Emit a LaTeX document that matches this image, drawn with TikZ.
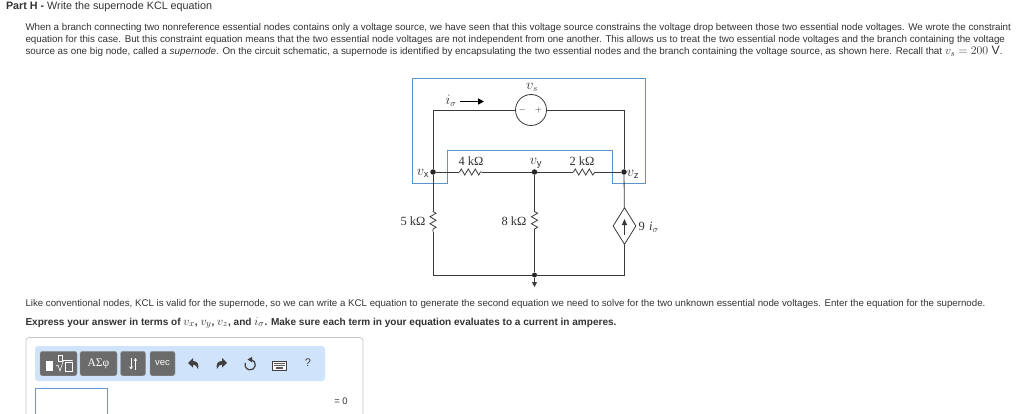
\documentclass[tikz,border=0pt]{standalone}
\usepackage{fontspec}
\usepackage{graphicx}
\setmainfont{Liberation Sans}
\newfontfamily\serifc{Liberation Serif}
\usetikzlibrary{shapes.geometric,decorations.pathmorphing,arrows.meta}
\definecolor{txt}{HTML}{333333}
\definecolor{wire}{HTML}{3A3A3A}
\definecolor{sn}{HTML}{5B94CC}
\definecolor{barblue}{HTML}{CFE3FA}
\definecolor{inputblue}{HTML}{6F96D8}
\newcommand{\fitline}[2]{\resizebox{#1pt}{!}{#2}}
\newcommand{\mth}[1]{{\fontsize{12.5}{12}\selectfont$#1$}}
\tikzset{
 line/.style={anchor=base west,inner sep=0pt,outer sep=0pt,text=txt,font=\fontsize{10}{12}\selectfont},
 wiring/.style={draw=wire,line width=0.8pt},
 res/.style={wiring,decorate,decoration={zigzag,amplitude=3pt,segment length=7pt,pre length=0.5pt,post length=0.5pt}},
 dot/.style={circle,fill=black!85,inner sep=0pt,minimum size=5.5pt},
 clabel/.style={inner sep=0pt,text=black!80,font=\serifc\fontsize{12.5}{12}\selectfont},
 vlabel/.style={inner sep=0pt,text=black!80,font=\fontsize{13.5}{14}\selectfont},
 tbtn/.style={rectangle,rounded corners=2.5pt,inner sep=0pt,fill=black!58,draw=black!42,line width=0.4pt,text=white},
 ticon/.style={inner sep=0pt,text=black!75},
}
\begin{document}
\begin{tikzpicture}[x=1pt,y=-1pt]
\useasboundingbox (0,0) rectangle (1024,414);
\fill[white] (0,0) rectangle (1024,414);
% text
\node[line] (title) at (6,9.5) {\fitline{206}{\textbf{Part H -} Write the supernode KCL equation}};
\node[line] (p1) at (25.5,30.5) {\fitline{985.5}{When a branch connecting two nonreference essential nodes contains only a voltage source, we have seen that this voltage source constrains the voltage drop between those two essential node voltages. We wrote the constraint}};
\node[line] (p2) at (25.5,42.5) {\fitline{979.5}{equation for this case. But this constraint equation means that the two essential node voltages are not independent from one another. This allows us to treat the two essential node voltages and the branch containing the voltage}};
\node[line] (p3) at (25.5,55) {\fitline{977}{source as one big node, called a \textit{supernode}. On the circuit schematic, a supernode is identified by encapsulating the two essential nodes and the branch containing the voltage source, as shown here. Recall that \mth{v_s=200\ \mathrm{V}}.}};
\node[line] (p4) at (25.5,306) {\fitline{960}{Like conventional nodes, KCL is valid for the supernode, so we can write a KCL equation to generate the second equation we need to solve for the two unknown essential node voltages. Enter the equation for the supernode.}};
\node[line] (p5) at (25.5,325) {\fitline{591}{\textbf{Express your answer in terms of \mth{v_x}, \mth{v_y}, \mth{v_z}, and \mth{i_\sigma}. Make sure each term in your equation evaluates to a current in amperes.}}};
% supernode outline
\draw[sn,line width=0.9pt] (412,78) -- (645,78) -- (645,183) -- (612,183) -- (612,150) -- (447,150) -- (447,183) -- (412,183) -- cycle;
% circuit nodes
\node[dot] (nx) at (433,172) {};
\node[dot] (ny) at (534.5,172) {};
\node[dot] (nz) at (624,172) {};
\node[dot,minimum size=5pt] (nb) at (534.5,275) {};
\node[circle,draw=wire,line width=0.8pt,fill=white,minimum size=31pt,inner sep=0pt] (vs) at (531,110) {};
\node[diamond,draw=wire,line width=0.8pt,fill=white,minimum width=23pt,minimum height=37pt,inner sep=0pt,aspect=0.6] (cs) at (624.5,226) {};
\coordinate (tl) at (433,110);
\coordinate (tr) at (624,110);
\coordinate (bl) at (433,275);
\coordinate (br) at (624.5,275);
\coordinate (r4a) at (459,172);
\coordinate (r4b) at (482,172);
\coordinate (r2a) at (573,172);
\coordinate (r2b) at (595,172);
\coordinate (r5a) at (433,211);
\coordinate (r5b) at (433,232);
\coordinate (r8a) at (534.5,211);
\coordinate (r8b) at (534.5,232);
\coordinate (gnd) at (534.5,287);
% wires
\draw[wiring] (vs) -- (tl) -- (nx);
\draw[wiring] (vs) -- (tr) -- (nz);
\draw[wiring] (nx) -- (r4a);
\draw[res] (r4a) -- (r4b);
\draw[wiring] (r4b) -- (ny);
\draw[wiring] (ny) -- (r2a);
\draw[res] (r2a) -- (r2b);
\draw[wiring] (r2b) -- (nz);
\draw[wiring] (nx) -- (r5a);
\draw[res] (r5a) -- (r5b);
\draw[wiring] (r5b) -- (bl) -- (nb);
\draw[wiring] (ny) -- (r8a);
\draw[res] (r8a) -- (r8b);
\draw[wiring] (r8b) -- (nb);
\draw[wiring] (nz) -- (cs);
\draw[wiring] (cs) -- (br) -- (nb);
\draw[wiring,-{Triangle[width=5pt,length=5pt]}] (nb) -- (gnd);
% source contents
\node[inner sep=0pt,text=black!80,font=\fontsize{9}{9}\selectfont] (minus) at (522.5,110) {$-$};
\node[inner sep=0pt,text=black!80,font=\fontsize{9}{9}\selectfont] (plus) at (538.5,110) {$+$};
\coordinate (csa) at (624.5,235);
\coordinate (csb) at (624.5,219);
\draw[wiring,-{Triangle[width=5pt,length=6pt]}] (csa) -- (csb);
% current arrow
\coordinate (ia) at (460,101.5);
\coordinate (ib) at (484,101.5);
\draw[black,line width=1.5pt,-{Triangle[width=6pt,length=6pt]}] (ia) -- (ib);
% labels
\node[vlabel] (li) at (451,101) {$i_\sigma$};
\node[vlabel] (lvs) at (532,87) {$v_s$};
\node[vlabel] (lvx) at (423,173.5) {$v_{\mathrm x}$};
\node[vlabel] (lvy) at (536,163) {$v_{\mathrm y}$};
\node[vlabel] (lvz) at (633,174) {$v_{\mathrm z}$};
\node[clabel] (l4) at (471,161) {4 kΩ};
\node[clabel] (l2) at (582,161) {2 kΩ};
\node[clabel] (l5) at (413,221.5) {5 kΩ};
\node[clabel] (l8) at (514,221.5) {8 kΩ};
\node[clabel,anchor=west] (l9) at (638.5,227) {9\,\,\textit{i}$_\sigma$};
% answer panel
\draw[black!22,line width=0.8pt,rounded corners=3pt] (26,414.5) -- (26,337.5) -- (363,337.5) -- (363,414.5);
\fill[barblue,rounded corners=3pt] (35,346) rectangle (325,381);
\node[tbtn,minimum width=37pt,minimum height=24.5pt] (b1) at (58.5,363.5) {};
\node[tbtn,minimum width=37pt,minimum height=24.5pt,font=\serifc\fontsize{11.5}{12}\selectfont] (b2) at (98.5,363.5) {ΑΣφ};
\node[tbtn,minimum width=25pt,minimum height=24.5pt] (b3) at (133,363.5) {};
\node[tbtn,minimum width=25pt,minimum height=24.5pt] (b4) at (162.5,363.5) {};
\node[inner sep=0pt,text=white,font=\fontsize{9.5}{10}\selectfont] (b4t) at (162.5,362.5) {vec};
\fill[white] (46,361) rectangle (53,371);
\draw[white,line width=0.6pt] (56,366) -- (58,365) -- (60,371) -- (63.5,360.5) -- (72.5,360.5);
\draw[white,line width=0.5pt] (58.5,355) rectangle (62,361);
\draw[white,line width=0.6pt] (65.5,362.5) rectangle (72,371);
\draw[white,line width=0.8pt,-{Stealth[length=3pt,width=3.5pt]}] (131,358) -- (131,369.5);
\draw[white,line width=0.8pt,-{Stealth[length=3pt,width=3.5pt]}] (135.5,369.5) -- (135.5,358);
% toolbar icons
\fill[black!75] (188,363) -- (193,358) -- (193,361) .. controls (198,361) and (199,365) .. (198,369) .. controls (197,366) and (195,364.5) .. (193,364.5) -- (193,367.5) -- cycle;
\fill[black!75] (227,363) -- (222,358) -- (222,361) .. controls (217,361) and (216,365) .. (217,369) .. controls (218,366) and (220,364.5) .. (222,364.5) -- (222,367.5) -- cycle;
\draw[black!75,line width=1.2pt] (251.1,359.6) arc[start angle=-80,end angle=200,radius=5.2];
\fill[black!75] (252,356.8) -- (252,362.4) -- (247.5,359.5) -- cycle;
\draw[black!75,line width=0.6pt,fill=white] (272.5,361) rectangle (286,370);
\fill[black!65] (274,362.5) rectangle (284.5,364.3);
\fill[black!65] (274,365) rectangle (284.5,366.3);
\fill[black!65] (275.5,367) rectangle (283,368.6);
\node[ticon,font=\fontsize{11}{12}\selectfont] (help) at (308,363) {?};
% input
\node[draw=inputblue,fill=white,line width=0.8pt,minimum width=72pt,minimum height=26pt,inner sep=0pt] (ans) at (71,401) {};
\node[inner sep=0pt,text=txt,font=\fontsize{9.5}{12}\selectfont] (eq) at (341,401) {= 0};
\end{tikzpicture}
\end{document}
